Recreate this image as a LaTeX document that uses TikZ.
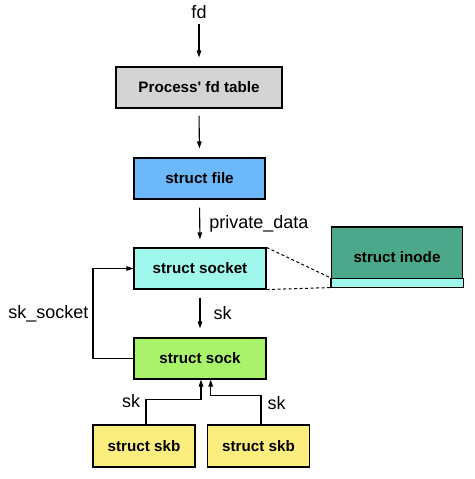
\documentclass[tikz,border=0pt]{standalone}
\usepackage{fontspec}
\setmainfont{Liberation Sans}
\usetikzlibrary{arrows.meta,calc}

\definecolor{tablegray}{HTML}{D4D4D4}
\definecolor{fileblue}{HTML}{6DB8F8}
\definecolor{socketcyan}{HTML}{A0F8EC}
\definecolor{inodeteal}{HTML}{4BA88B}
\definecolor{sockgreen}{HTML}{A8F36A}
\definecolor{skbyellow}{HTML}{FCEE7E}

\begin{document}
\begin{tikzpicture}[x=1pt, y=-1pt,
    box/.style={draw=black, line width=1.1pt, minimum height=41pt, inner sep=0pt,
                font=\fontsize{15.2}{18}\selectfont\bfseries},
    lbl/.style={font=\fontsize{18}{21}\selectfont, inner sep=0pt},
    ptr/.style={line width=1.1pt, -{Triangle[length=7pt,width=4.5pt]}},
    link/.style={line width=1pt, dash pattern=on 3pt off 2.5pt}]
    % Fix the page size
    \useasboundingbox (0,0) rectangle (474,479);

    % Define boxes
    \node[lbl] (fd) at (199,12) {fd};
    \node[box, fill=tablegray, minimum width=166pt] (table) at (199,87.5) {Process\textquotesingle{} fd table};
    \node[box, fill=fileblue, minimum width=131pt] (file) at (199.5,178.5) {struct file};
    \node[box, fill=socketcyan, minimum width=132pt] (socket) at (200,268.5) {struct socket};
    \node[box, fill=inodeteal, minimum width=131pt, minimum height=60pt] (inode) at (397,257) {struct inode};
    \node[box, fill=sockgreen, minimum width=132pt] (sock) at (200,358.5) {struct sock};
    \node[box, fill=skbyellow, minimum width=102pt, minimum height=42pt] (skbA) at (144,446) {struct skb};
    \node[box, fill=skbyellow, minimum width=102pt, minimum height=42pt] (skbB) at (258.5,446) {struct skb};

    % Draw the socket strip at the bottom of the inode
    \coordinate (stripNW) at ([yshift=9.5pt]inode.south west);
    \draw[line width=1.1pt, fill=socketcyan] (inode.south west) rectangle ([yshift=9.5pt]inode.south east);

    % Draw the main chain
    \draw[ptr, shorten <=5pt, shorten >=9pt] (fd.south) -- (table.north);
    \draw[ptr, shorten <=7pt, shorten >=9pt] (table.south) -- (file.north);
    \draw[ptr, shorten <=8pt, shorten >=8pt] (file.south) -- (socket.north)
        node[lbl, midway, right=9pt] {private\_data};
    \draw[ptr, shorten <=8pt, shorten >=9pt] (socket.south) -- (sock.north)
        node[lbl, midway, right=13pt] {sk};

    % Draw the back pointer
    \draw[ptr] (sock.west) -- ++(-40.5,0) |- (socket.west)
        node[lbl, pos=0.25, left=4pt] {sk\_socket};

    % Draw the skb pointers
    \draw[ptr] ([xshift=2pt]skbA.north) -- ++(0,-25) -| ([xshift=1pt]sock.south);
    \draw[ptr] ([xshift=2.5pt]skbB.north) -- ++(0,-29) -| ([xshift=10.7pt]sock.south);
    \node[lbl] (skA) at (131,401) {sk};
    \node[lbl] (skB) at (276.5,403) {sk};

    % Draw the dashed links
    \draw[link] (socket.north east) -- (stripNW);
    \draw[link] (socket.south east) -- (inode.south west);
\end{tikzpicture}
\end{document}
